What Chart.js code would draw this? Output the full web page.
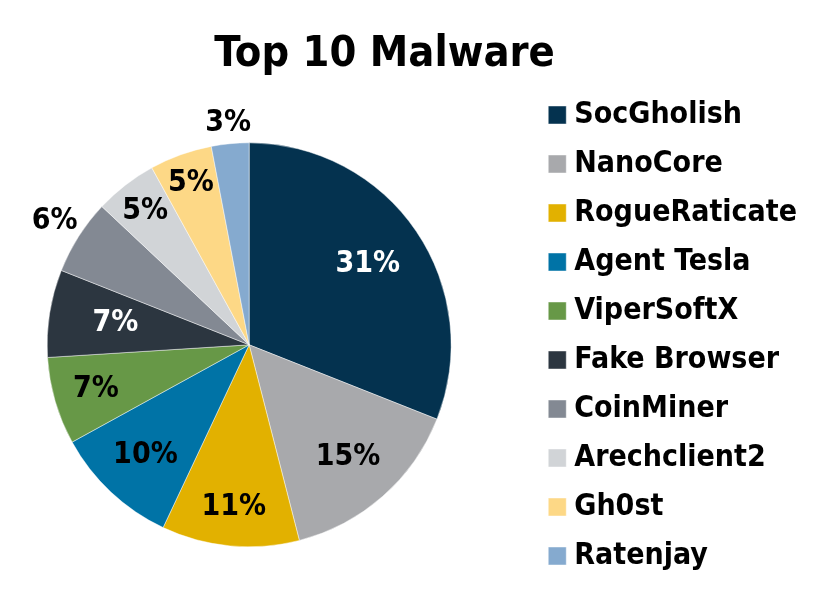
<!DOCTYPE html>
<html>
<head>
<meta charset="utf-8">
<script src="https://cdn.jsdelivr.net/npm/chart.js@4"></script>
<style>
  html, body { margin: 0; padding: 0; background: #fff; overflow: hidden; }
  #box { width: 860px; height: 594px; margin-left: -38px; }
</style>
</head>
<body>
<div id="box"><canvas id="top10"></canvas></div>
<script>
const labels = ["SocGholish", "NanoCore", "RogueRaticate", "Agent Tesla", "ViperSoftX",
    "Fake Browser", "CoinMiner", "Arechclient2", "Gh0st", "Ratenjay"];
const anteile = [31, 15, 11, 10, 7, 7, 6, 5, 5, 3];
const farben = ["#04324f", "#a8a9ac", "#e2b100", "#0073a6", "#679847",
    "#2c3640", "#838993", "#d1d4d7", "#fdd886", "#85aacf"];

// label colour and distance from centre (fraction of radius) per slice
const textFarben = ["#fff", "#000", "#000", "#000", "#000", "#fff", "#000", "#000", "#000", "#000"];
const textAbstand = [0.71, 0.74, 0.81, 0.75, 0.79, 0.67, 1.14, 0.84, 0.85, 1.10];

const schrift = "'DejaVu Sans Condensed', 'DejaVu Sans', sans-serif";

const prozentLabels = {
    id: "prozentLabels",
    afterDatasetsDraw(chart) {
        const ctx = chart.ctx;
        const meta = chart.getDatasetMeta(0);
        ctx.save();
        ctx.font = "bold 30px " + schrift;
        ctx.textAlign = "center";
        ctx.textBaseline = "middle";
        meta.data.forEach((arc, i) => {
            const p = arc.getProps(["x", "y", "startAngle", "endAngle", "outerRadius"], true);
            const mitte = (p.startAngle + p.endAngle) / 2;
            const r = p.outerRadius * textAbstand[i];
            ctx.fillStyle = textFarben[i];
            ctx.fillText(anteile[i] + "%", p.x + Math.cos(mitte) * r, p.y + Math.sin(mitte) * r);
        });
        ctx.restore();
    },
};

new Chart(document.getElementById("top10"), {
    type: "pie",
    data: {
        labels: labels,
        datasets: [
            {
                data: anteile,
                backgroundColor: farben,
                borderColor: "rgba(255,255,255,0.6)",
                borderWidth: 0.75,
                radius: 202,
            },
        ],
    },
    options: {
        responsive: true,
        maintainAspectRatio: false,
        animation: false,
        layout: {
            padding: { left: 0, right: 15, top: 0, bottom: 4 },
        },
        plugins: {
            title: {
                display: true,
                text: "Top 10 Malware",
                color: "#000",
                font: { family: schrift, size: 43, weight: "bold" },
                padding: { top: 29, bottom: 19 },
            },
            legend: {
                position: "right",
                align: "end",
                labels: {
                    color: "#000",
                    font: { family: schrift, size: 30, weight: "bold" },
                    usePointStyle: true,
                    pointStyle: "rect",
                    boxWidth: 4,
                    boxHeight: 18,
                    padding: 19,
                },
            },
            tooltip: { enabled: false },
        },
    },
    plugins: [prozentLabels],
});
</script>
</body>
</html>
